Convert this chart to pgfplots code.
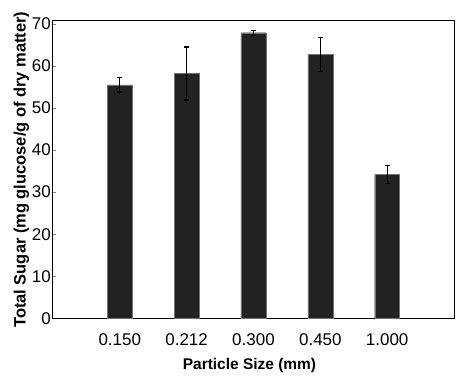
\documentclass[border=0pt]{standalone}
\usepackage{fontspec}
\setmainfont{Liberation Sans}
\usepackage{pgfplots}
\pgfplotsset{compat=1.18}
\definecolor{barc}{HTML}{222222}
\begin{document}
\begin{tikzpicture}
\begin{axis}[
  scale only axis,
  width=402pt, height=298pt,
  xmin=0, xmax=6, ymin=0, ymax=70.7,
  xtick={1,2,3,4,5},
  xticklabels={0.150,0.212,0.300,0.450,1.000},
  ytick={0,10,20,30,40,50,60,70},
  ytick pos=left, xtick pos=bottom,
  tick align=inside,
  major tick length=3pt,
  x tick style={draw=none},
  axis line style={line width=1pt},
  /pgf/number format/assume math mode=true,
  ticklabel style={font=\fontsize{17}{20}\selectfont},
  yticklabel style={xshift=1.5pt},
  xticklabel style={yshift=-12pt},
  xlabel={\textbf{Particle Size (mm)}},
  ylabel={\textbf{Total Sugar (mg glucose/g of dry matter)}},
  xlabel style={font=\fontsize{15.5}{18}\selectfont, yshift=-6pt, xshift=-4pt},
  ylabel style={font=\fontsize{16.5}{19}\selectfont, yshift=-4pt},
]
\addplot[ybar, bar width=25pt, fill=barc, draw=black!55, line width=0.4pt,
  error bars/.cd, y dir=both, y explicit,
  error bar style={black, line width=1.3pt},
  error mark options={rotate=90, mark size=2.4pt, line width=1.3pt, black}]
  coordinates {
  (1,55.5) +- (0,1.7)
  (2,58.2) +- (0,6.3)
  (3,67.9) +- (0,0.6)
  (4,62.7) +- (0,4.0)
  (5,34.2) +- (0,2.1)
  };
\end{axis}
\useasboundingbox ([xshift=-53pt,yshift=-63pt]current axis.south west) rectangle ([xshift=20pt,yshift=21pt]current axis.north east);
\end{tikzpicture}
\end{document}
